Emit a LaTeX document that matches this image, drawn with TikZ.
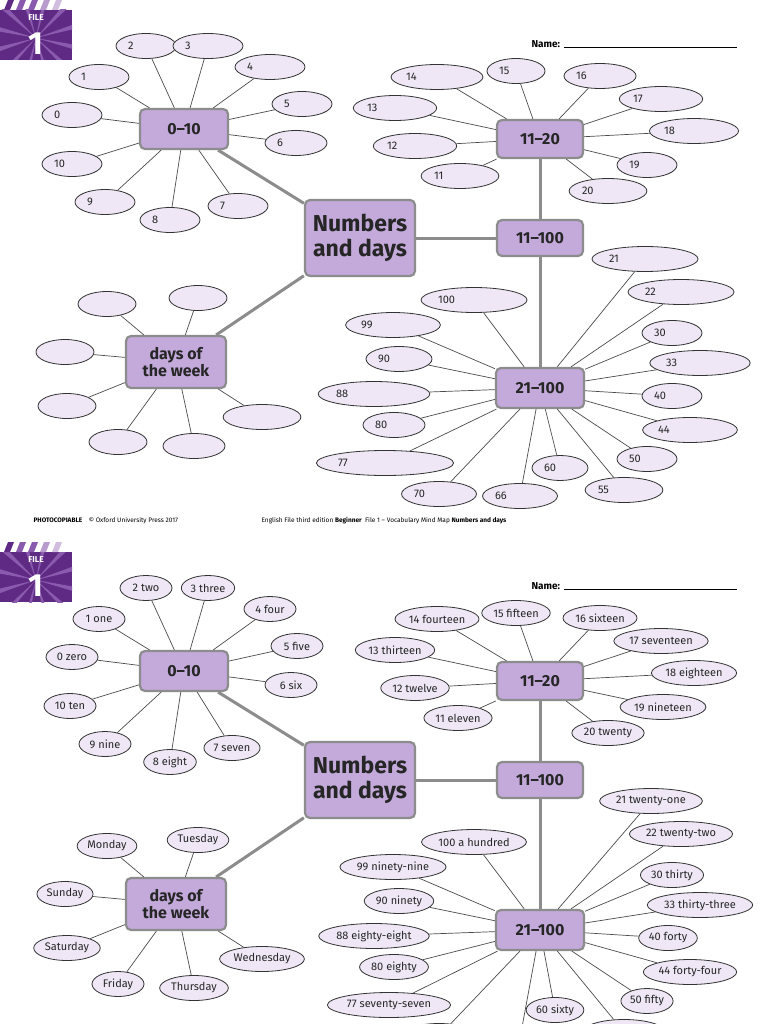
\documentclass[tikz,border=0pt]{standalone}
\usepackage{fontspec}
\setmainfont{Fira Sans}
\usetikzlibrary{shapes.geometric}
\definecolor{hubfill}{HTML}{C4AADB}
\definecolor{hubline}{HTML}{8C8C8C}
\definecolor{elfill}{HTML}{EFE7F6}
\definecolor{logop}{HTML}{5E2A84}
\definecolor{logol}{HTML}{8A5AAE}
\tikzset{
 hub/.style={rectangle,rounded corners=5pt,draw=hubline,line width=2.2pt,fill=hubfill,font=\bfseries\fontsize{16}{17}\selectfont,text=black!85,align=center},
 el/.style={ellipse,draw=black!80,line width=0.8pt,fill=elfill,minimum height=25pt,inner sep=1.5pt,font=\fontsize{11}{12}\selectfont,text=black!85},
 spoke/.style={draw=black!70,line width=0.7pt},
 link/.style={draw=hubline,line width=3pt},
}
\newcommand{\hubs}[1]{%
 \node[hub,minimum width=88pt,minimum height=40pt] (#1a) at (184,129) {0–10};
 \node[hub,minimum width=110pt,minimum height=76pt,font=\bfseries\fontsize{23}{25}\selectfont] (#1n) at (360,238) {Numbers\\and days};
 \node[hub,minimum width=86pt,minimum height=38pt] (#1b) at (540,139) {11–20};
 \node[hub,minimum width=86pt,minimum height=36pt] (#1m) at (540,238) {11–100};
 \node[hub,minimum width=88pt,minimum height=40pt] (#1c) at (540,388) {21–100};
 \node[hub,minimum width=100pt,minimum height=52pt] (#1d) at (176,362) {days of\\the week};
 \draw[link] (#1n) -- (#1a);
 \draw[link] (#1n) -- (#1d);
 \draw[link] (#1n) -- (#1m);
 \draw[link] (#1m) -- (#1b);
 \draw[link] (#1m) -- (#1c);
 \node[font=\bfseries\fontsize{10}{10}\selectfont,anchor=west] (#1name) at (528,44) {Name:};
 \coordinate (#1le) at (737,47);
 \draw[line width=0.7pt] ([yshift=-3pt]#1name.east) -- (#1le);
 \begin{scope}
 \clip (0,10) rectangle (72,60);
 \fill[logop] (0,10) rectangle (72,60);
 \foreach \a in {10,40,...,350}{\fill[logol] (36,38) -- ++(\a:60) -- ++(\a+90:7) -- cycle;}
 \end{scope}
 \foreach \xx/\c in {4/logop,16/logol,28/logol,40/logol!60,52/logol!40}{\fill[\c] (\xx,10) -- (\xx+6,10) -- (\xx+10,0) -- (\xx+4,0) -- cycle;}
 \node[text=white,font=\bfseries\fontsize{8.5}{8}\selectfont] (#1file) at (36,18) {FILE};
 \node[text=white,font=\bfseries\fontsize{32}{30}\selectfont] (#1one) at (36,44) {1};
}
\begin{document}
\begin{tikzpicture}[x=1pt,y=-1pt]
\useasboundingbox (0,0) rectangle (768,1024);
\clip (0,0) rectangle (768,1024);
\fill[white] (0,0) rectangle (768,1024);
% top half
\hubs{A}
\foreach \x/\y/\w/\h/\t [count=\i] in {
 146/46/60/a/2, 208/46/70/a/3, 270/67/70/a/4, 302/104/60/a/5, 296/143/62/a/6, 238/206/60/a/7, 170/220/60/a/8, 105/202/60/a/9, 72/164/60/a/10, 72/115/60/a/0, 99/77/60/a/1,
 437/77/86/b/14, 516/71/58/b/15, 600/76/72/b/16, 661/99/80/b/17, 694/131/84/b/18, 647/165/60/b/19, 608/191/76/b/20, 460/176/76/b/11, 415/146/80/b/12, 395/108/80/b/13,
 645/259/96/c/21, 681/292/96/c/22, 672/333/60/c/30, 700/363/92/c/33, 672/396/60/c/40, 690/430/88/c/44, 647/459/60/c/50, 624/490/76/c/55, 560/468/56/c/60, 520/496/74/c/66, 439/494/74/c/70, 385/463/118/c/77, 394/425/62/c/80, 374/394/100/c/88, 399/359/66/c/90, 393/325/88/c/99, 474/300/96/c/100,
 107/304/58/d/{}, 198/298/58/d/{}, 65/352/58/d/{}, 67/406/58/d/{}, 118/442/58/d/{}, 194/446/62/d/{}, 262/417/76/d/{}}
{\node[el,minimum width=\w pt,text width=\w pt - 24pt,align=left] (Ae\i) at (\x,\y) {\t};
 \draw[spoke] (A\h) -- (Ae\i);}
\node[anchor=west,font=\fontsize{6.5}{7}\selectfont] (foot1) at (30,521) {\textbf{PHOTOCOPIABLE}\quad © Oxford University Press 2017};
\node[anchor=west,font=\fontsize{6.5}{7}\selectfont] (foot2) at (258,521) {English File third edition \textbf{Beginner}\ \ File 1 – Vocabulary Mind Map \textbf{Numbers and days}};
% bottom half
\begin{scope}[shift={(0,542)}]
\hubs{B}
\foreach \x/\y/\h/\t [count=\i] in {
 146/46/a/2 two, 208/46/a/3 three, 270/67/a/4 four, 297/104/a/5 five, 291/143/a/6 six, 232/206/a/7 seven, 170/220/a/8 eight, 105/202/a/9 nine, 70/164/a/10 ten, 72/115/a/0 zero, 99/77/a/1 one,
 437/77/b/14 fourteen, 516/71/b/15 fifteen, 600/76/b/16 sixteen, 661/99/b/17 seventeen, 694/131/b/18 eighteen, 663/165/b/19 nineteen, 608/191/b/20 twenty, 458/176/b/11 eleven, 415/146/b/12 twelve, 395/108/b/13 thirteen,
 651/259/c/21 twenty-one, 681/292/c/22 twenty-two, 672/333/c/30 thirty, 700/363/c/33 thirty-three, 668/396/c/40 forty, 690/430/c/44 forty-four, 647/459/c/50 fifty, 624/490/c/55 fifty-five, 555/468/c/60 sixty, 520/496/c/66 sixty-six, 439/494/c/70 seventy, 389/463/c/77 seventy-seven, 394/425/c/80 eighty, 374/394/c/88 eighty-eight, 399/359/c/90 ninety, 393/325/c/99 ninety-nine, 474/300/c/100 a hundred,
 107/304/d/Monday, 198/298/d/Tuesday, 65/352/d/Sunday, 67/406/d/Saturday, 118/442/d/Friday, 194/446/d/Thursday, 262/417/d/Wednesday}
{\node[el,minimum width=52pt] (Be\i) at (\x,\y) {\t};
 \draw[spoke] (B\h) -- (Be\i);}
\end{scope}
\end{tikzpicture}
\end{document}
